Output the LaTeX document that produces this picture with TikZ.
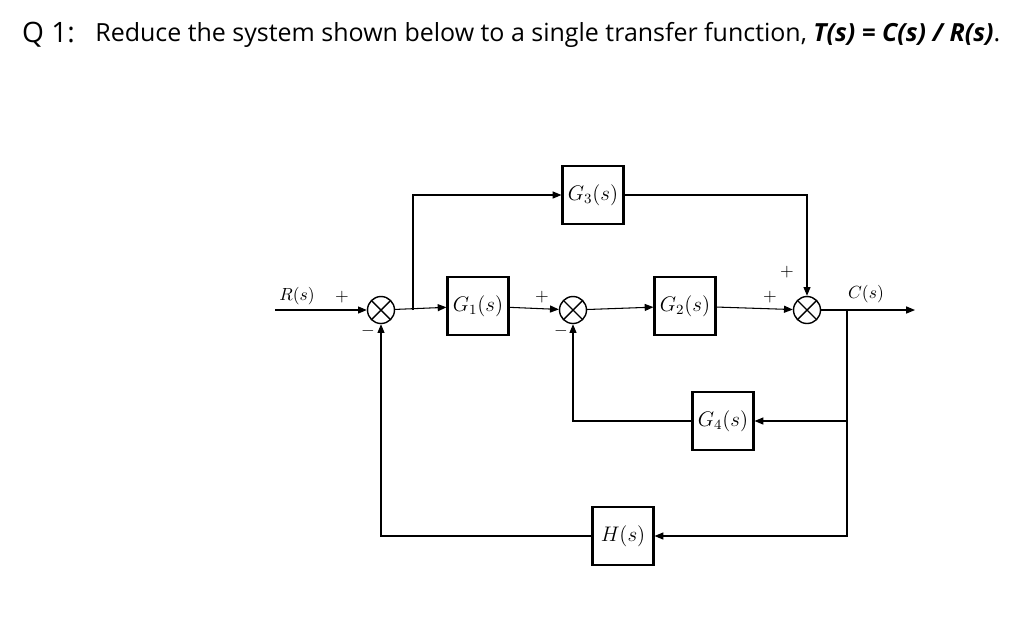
\documentclass[tikz,border=0pt]{standalone}
\usepackage{fontspec}
\setmainfont{Liberation Serif}
\newfontfamily\sans{Open Sans}
\usetikzlibrary{arrows.meta}
\begin{document}
\begin{tikzpicture}[x=0.02cm,y=-0.02cm,
  blk/.style={draw,line width=1.2pt,minimum width=1.22cm,minimum height=1.16cm,inner sep=0pt,font=\large},
  sum/.style={draw,circle,line width=0.8pt,minimum size=0.54cm,inner sep=0pt,path picture={\draw[line width=0.8pt] (path picture bounding box.north west)--(path picture bounding box.south east) (path picture bounding box.north east)--(path picture bounding box.south west);}},
  sig/.style={line width=0.6pt,-{Triangle[length=5pt,width=4pt]}},
  lab/.style={font=\normalsize}]
\useasboundingbox (0,0) rectangle (1024,627);
\node[anchor=west,font=\sans\fontsize{16}{19}\selectfont] (q) at (16,35) {Q 1:};
\node[anchor=west,inner sep=0pt,font=\sans\fontsize{16}{19}\selectfont] (t) at (95,35) {\resizebox{18.1cm}{!}{Reduce the system shown below to a single transfer function, \textbf{\textit{T(s) = C(s) / R(s)}}.}};
\node[sum] (s1) at (381,310) {};
\node[sum] (s2) at (573,310) {};
\node[sum] (s3) at (807,310) {};
\node[blk] (g1) at (478,306) {$G_1(s)$};
\node[blk] (g2) at (685,306) {$G_2(s)$};
\node[blk] (g3) at (593,195) {$G_3(s)$};
\node[blk] (g4) at (723,421) {$G_4(s)$};
\node[blk] (h) at (623,536) {$H(s)$};
\coordinate (in) at (275,310);
\coordinate (out) at (915,310);
\coordinate (b1) at (413,310);
\coordinate (b2) at (847,310);
\draw[sig] (in) -- (s1);
\draw[sig] (s1) -- (g1);
\draw[sig] (g1) -- (s2);
\draw[sig] (s2) -- (g2);
\draw[sig] (g2) -- (s3);
\draw[sig] (s3) -- (out);
\draw[sig] (b1) |- (g3);
\draw[sig] (g3) -| (s3);
\draw[sig] (b2) |- (g4);
\draw[sig] (b2) |- (h);
\draw[sig] (g4) -| (s2);
\draw[sig] (h) -| (s1);
\node[lab] (rl) at (297,296) {$R(s)$};
\node[lab] (cl) at (866,294) {$C(s)$};
\node[lab] (p1) at (342,297) {$+$};
\node[lab] (m1) at (368,331) {$-$};
\node[lab] (p2) at (542,297) {$+$};
\node[lab] (m2) at (561,331) {$-$};
\node[lab] (p3) at (770,297) {$+$};
\node[lab] (p4) at (787,272) {$+$};
\end{tikzpicture}
\end{document}
